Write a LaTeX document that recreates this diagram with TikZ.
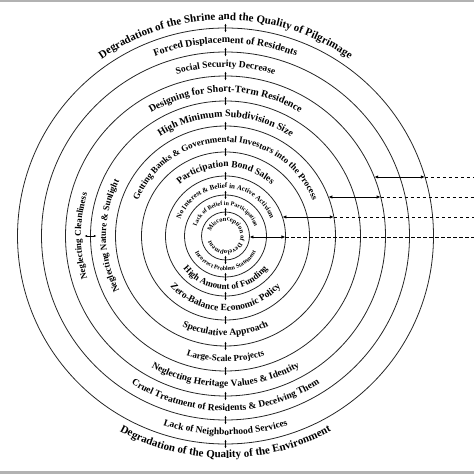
\documentclass[tikz,border=0pt]{standalone}
\usepackage{fontspec}
\setmainfont{Liberation Serif}
\usetikzlibrary{decorations.text,arrows.meta}
\newcommand\ringfont[1]{\fontsize{#1}{#1}\selectfont\bfseries}

\begin{document}
\begin{tikzpicture}[x=1pt,y=1pt,
  ring/.style={line width=0.8pt,black!85},
  tick/.style={line width=0.7pt,{Latex[length=2.6pt,width=2.2pt]}-{Latex[length=2.6pt,width=2.2pt]}},
  link/.style={line width=0.9pt,{Latex[length=4pt,width=3.4pt]}-{Latex[length=4pt,width=3.4pt]}},
  guide/.style={line width=0.8pt,dash pattern=on 3.5pt off 2.5pt},
  along/.style={decorate,decoration={text along path,text align=center,text={#1}}}]

\useasboundingbox (0,0) rectangle (474,474);
\fill[black!30] (0,471.5) rectangle (474,474);
\fill[black!30] (0,0) rectangle (474,2.5);

\coordinate (C) at (225.5,238);

% rings with the small arrows on top and bottom
\foreach \r [count=\i] in {24,41,60,84,110,135,160,184,208} {
  \draw[ring] (C) circle[radius=\r pt];
  \coordinate (N\i) at ([yshift=\r pt]C);
  \coordinate (S\i) at ([yshift=-\r pt]C);
  \draw[tick] ([yshift=4.5pt]N\i) -- ([yshift=-4.5pt]N\i);
  \draw[tick] ([yshift=4.5pt]S\i) -- ([yshift=-4.5pt]S\i);
}

% arrow on the left
\coordinate (W) at ([xshift=-135pt]C);
\draw[tick] ([xshift=-6pt]W) -- ([xshift=6pt]W);

% arrows and dashed lines on the right (sqrt on r/10 to keep numbers small)
\foreach \h/\ra/\rb [count=\i] in {237/24/60,257/60/110,277/110/160,297/160/208} {
  \coordinate (A\i) at ({225.5+10*sqrt((\ra/10)^2-((\h-238)/10)^2)},\h);
  \coordinate (B\i) at ({225.5+10*sqrt((\rb/10)^2-((\h-238)/10)^2)},\h);
  \coordinate (E\i) at (474,\h);
  \draw[link] (A\i) -- (B\i);
  \draw[guide] (B\i) -- (E\i);
}

% upper labels
\path[along={|\ringfont{11}|Degradation of the Shrine and the Quality of Pilgrimage}] (C) ++(180:216pt) arc[start angle=180,end angle=0,radius=216pt];
\path[along={|\ringfont{10}|Forced Displacement of Residents}] (C) ++(180:193pt) arc[start angle=180,end angle=0,radius=193pt];
\path[along={|\ringfont{9.5}|Social Security Decrease}] (C) ++(180:169pt) arc[start angle=180,end angle=0,radius=169pt];
\path[along={|\ringfont{10}|Designing for Short-Term Residence}] (C) ++(180:144pt) arc[start angle=180,end angle=0,radius=144pt];
\path[along={|\ringfont{10}|High Minimum Subdivision Size}] (C) ++(180:119pt) arc[start angle=180,end angle=0,radius=119pt];
\path[along={|\ringfont{9}|Getting Banks {\&} Governmental Investors into the Process}] (C) ++(180:94pt) arc[start angle=180,end angle=0,radius=94pt];
\path[along={|\ringfont{9.5}|Participation Bond Sales}] (C) ++(180:69pt) arc[start angle=180,end angle=0,radius=69pt];
\path[along={|\ringfont{7}|No Interest {\&} Belief in Active Activism}] (C) ++(180:48pt) arc[start angle=180,end angle=0,radius=48pt];
\path[along={|\ringfont{6}|Lack of Belief in Participation}] (C) ++(180:30.5pt) arc[start angle=180,end angle=0,radius=30.5pt];
\path[along={|\ringfont{6.5}|Misconception of Development}] (C) ++(180:15pt) arc[start angle=180,end angle=-180,radius=15pt];

% lower labels
\path[along={|\ringfont{6}|Incorrect Problem Statement}] (C) ++(180:34.5pt) arc[start angle=180,end angle=360,radius=34.5pt];
\path[along={|\ringfont{9}|High Amount of Funding}] (C) ++(180:53.5pt) arc[start angle=180,end angle=360,radius=53.5pt];
\path[along={|\ringfont{9.5}|Zero-Balance Economic Policy}] (C) ++(180:75pt) arc[start angle=180,end angle=360,radius=75pt];
\path[along={|\ringfont{9.5}|Speculative Approach}] (C) ++(180:100pt) arc[start angle=180,end angle=360,radius=100pt];
\path[along={|\ringfont{9}|Large-Scale Projects}] (C) ++(180:125.5pt) arc[start angle=180,end angle=360,radius=125.5pt];
\path[along={|\ringfont{9.5}|Neglecting Heritage Values {\&} Identity}] (C) ++(180:150.5pt) arc[start angle=180,end angle=360,radius=150.5pt];
\path[along={|\ringfont{9.5}|Cruel Treatment of Residents {\&} Deceiving Them}] (C) ++(180:175pt) arc[start angle=180,end angle=360,radius=175pt];
\path[along={|\ringfont{9.5}|Lack of Neighborhood Services}] (C) ++(180:199pt) arc[start angle=180,end angle=360,radius=199pt];
\path[along={|\ringfont{11}|Degradation of the Quality of the Environment}] (C) ++(180:222pt) arc[start angle=180,end angle=360,radius=222pt];

% left labels
\path[along={|\ringfont{9}|Neglecting Cleanliness}] (C) ++(235:144.5pt) arc[start angle=235,end angle=125,radius=144.5pt];
\path[along={|\ringfont{9}|Neglecting Nature {\&} Sunlight}] (C) ++(235:119.5pt) arc[start angle=235,end angle=125,radius=119.5pt];

\end{tikzpicture}
\end{document}
